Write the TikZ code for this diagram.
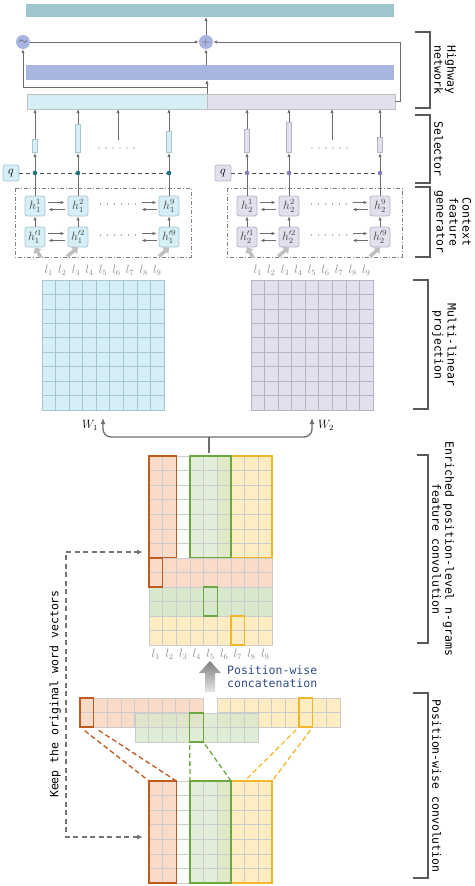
\documentclass[tikz,border=0pt]{standalone}
\usepackage{amsmath}
\usepackage{fontspec}
\setmonofont{DejaVu Sans Mono}
\usetikzlibrary{arrows.meta, positioning, calc}

\definecolor{tealbar}{HTML}{9EC6CC}
\definecolor{bluebar}{HTML}{A9B5E1}
\definecolor{cyanfill}{HTML}{D6EEF6}
\definecolor{cyanline}{HTML}{A6C7D1}
\definecolor{lilafill}{HTML}{E3E0EE}
\definecolor{lilaline}{HTML}{B7B2C8}
\definecolor{orfill}{HTML}{FADBC9}
\definecolor{ordark}{HTML}{C05A1F}
\definecolor{grfill}{HTML}{D8E8CC}
\definecolor{grdark}{HTML}{6BA83E}
\definecolor{yefill}{HTML}{FEECC3}
\definecolor{yedark}{HTML}{F2B829}
\definecolor{arrowgray}{HTML}{6E6E6E}
\definecolor{txtblue}{HTML}{2F4B88}
\definecolor{dotteal}{HTML}{1F717B}
\definecolor{dotlila}{HTML}{8679B6}

\newcommand{\sidefont}{\fontsize{11.5}{13}\selectfont\ttfamily}
% x0, y0, columns, rows, cell width, cell height, options
\newcommand{\cellblock}[7]{%
  \foreach \ci in {1,...,#3}{%
    \foreach \cj in {1,...,#4}{%
      \draw[cellline, #7] ({#1+(\ci-1)*#5},{#2+(\cj-1)*#6}) rectangle ++(#5,#6);
    }%
  }%
}
% arrows and dots of one row of context nodes
\newcommand{\hchain}[1]{%
  \draw[arr, shorten <=3pt, shorten >=3pt] ([yshift=3.5pt]#11.east) -- ([yshift=3.5pt]#12.west);
  \draw[arr, shorten <=3pt, shorten >=3pt] ([yshift=-3.5pt]#12.west) -- ([yshift=-3.5pt]#11.east);
  \draw[dotline] ([xshift=12pt,yshift=2pt]#12.east) -- ([xshift=-20pt,yshift=2pt]#19.west);
  \draw[arr, shorten >=2pt] ([xshift=-17pt,yshift=3.5pt]#19.west) -- ([yshift=3.5pt]#19.west);
  \draw[arr, shorten <=2pt] ([yshift=-3.5pt]#19.west) -- ([xshift=-17pt,yshift=-3.5pt]#19.west);
}

\begin{document}
\begin{tikzpicture}[x=1pt, y=-1pt,
  arr/.style={draw=arrowgray, line width=0.9pt, -{Latex[length=4pt, width=3.4pt]}},
  bigarr/.style={draw=arrowgray, line width=1.3pt, -{Latex[length=6pt, width=5pt]}},
  fat/.style={draw=black!25, line width=3.5pt, -{Triangle[length=5pt, width=9pt]}},
  bar/.style={draw=none, minimum height=#1, inner sep=0pt, outer sep=0pt},
  gate/.style={circle, fill=bluebar, minimum size=14pt, inner sep=0pt},
  hbox/.style={rounded corners=2.5pt, minimum size=20pt, inner sep=0pt, line width=0.8pt, text=black!75, font=\large},
  lefth/.style={hbox, fill=cyanfill, draw=cyanline},
  righth/.style={hbox, fill=lilafill, draw=lilaline},
  vec/.style={minimum width=5pt, minimum height=#1, inner sep=0pt, anchor=south, line width=0.7pt},
  qbox/.style={rounded corners=2pt, minimum size=16pt, inner sep=0pt, line width=0.8pt, font=\large},
  qline/.style={draw=black!70, line width=1pt, dash pattern=on 4pt off 3pt},
  genbox/.style={draw=black!50, line width=0.7pt, dash pattern=on 4pt off 2pt on 1pt off 2pt},
  dotline/.style={draw=black!60, line width=1.3pt, line cap=round, dash pattern=on 0pt off 7pt},
  llbl/.style={text=black!45, inner sep=0pt, font=\large},
  cellline/.style={draw=black!20, line width=0.6pt},
  gridnode/.style={inner sep=0pt, outer sep=0pt, minimum width=122pt, minimum height=130pt},
  hl/.style={draw=#1, line width=1.4pt, inner sep=0pt, outer sep=0pt, anchor=north west},
  brk/.style={draw=black!65, line width=1.3pt},
  side/.style={font=\sidefont, align=center, inner sep=1pt},
  keeparr/.style={draw=black!55, line width=1.2pt, dash pattern=on 5pt off 3.5pt, {Latex[length=6pt, width=5pt]}-{Latex[length=6pt, width=5pt]}},
  odash/.style={draw=ordark, line width=1.3pt, dash pattern=on 5pt off 3pt},
  gdash/.style={draw=grdark, line width=1.3pt, dash pattern=on 5pt off 3pt},
  ydash/.style={draw=yedark, line width=1.3pt, dash pattern=on 5pt off 3pt}]
\useasboundingbox (0,0) rectangle (474,886);

% highway network
\node[bar=13pt, fill=tealbar, minimum width=368pt] (out) at (210,10.5) {};
\node[gate] (sig) at (23,42) {\textcolor{black!70}{\large$\sim$}};
\node[gate] (plus) at (206,42) {\textcolor{black!60}{\large$+$}};
\node[bar=15pt, fill=bluebar, minimum width=368pt] (hw) at (210,72.5) {};
\node[bar=15pt, fill=cyanfill, draw=black!25, minimum width=180pt] (catl) at (117,101.5) {};
\node[bar=15pt, fill=lilafill, draw=black!25, minimum width=188pt] (catr) at (301,101.5) {};
\draw[arr] (plus.north) -- (plus.north |- out.south);
\draw[arr] (plus.south |- hw.north) -- (plus.south);
\draw[arr] (sig) -- (plus);
\draw[arr] (catr.east) -- ++(5,0) |- (plus.east);
\draw[arr] (catl.north east) -- (catl.north east |- hw.south);
\draw[arr] ($(catl.north east)+(0,-7)$) -| (sig.south);

% selector and context feature generator, left
\node[qbox, fill=cyanfill, draw=cyanline] (ql) at (11,173) {$q$};
\draw[genbox] (15,188) rectangle (191,257);
\draw[qline] (ql.east) -- (169,173);
\foreach \x/\h/\i in {35/13/1, 78/28/2, 169/21/9}{
  \node[vec=\h, fill=cyanfill, draw=cyanline] (vl\i) at (\x,153) {};
  \node[lefth] (la\i) at (\x,206) {$h^{\i}_{1}$};
  \node[lefth] (lb\i) at (\x,237) {$h^{\prime\i}_{1}$};
  \draw[arr] (lb\i) -- (la\i);
  \draw[arr] (la\i) -- (vl\i.south);
  \draw[arr] (vl\i) -- (vl\i |- catl.south);
  \fill[dotteal] (\x,173) circle (2.3pt);
}
\coordinate (ldots) at (118,140);
\draw[arr] (ldots) -- (ldots |- catl.south);
\draw[dotline] (99,148) -- (137,148);
\hchain{la}
\hchain{lb}
\draw[fat] ($(lb1.south)+(6,10)$) -- (lb1.south);
\draw[fat] ($(lb2.south)+(-11,9)$) -- (lb2.south);
\draw[fat] ($(lb9.south)+(-10,9)$) -- (lb9.south);

% selector and context feature generator, right
\node[qbox, fill=lilafill, draw=lilaline] (qr) at (223,173) {$q$};
\draw[genbox] (227,188) rectangle (402,257);
\draw[qline] (qr.east) -- (380,173);
\foreach \x/\h/\i in {247/23/1, 289/30/2, 380/15/9}{
  \node[vec=\h, fill=lilafill, draw=lilaline] (vr\i) at (\x,153) {};
  \node[righth] (ra\i) at (\x,206) {$h^{\i}_{2}$};
  \node[righth] (rb\i) at (\x,237) {$h^{\prime\i}_{2}$};
  \draw[arr] (rb\i) -- (ra\i);
  \draw[arr] (ra\i) -- (vr\i.south);
  \draw[arr] (vr\i) -- (vr\i |- catr.south);
  \fill[dotlila] (\x,173) circle (2.3pt);
}
\coordinate (rdots) at (332,140);
\draw[arr] (rdots) -- (rdots |- catr.south);
\draw[dotline] (312,148) -- (350,148);
\hchain{ra}
\hchain{rb}
\draw[fat] ($(rb1.south)+(6,10)$) -- (rb1.south);
\draw[fat] ($(rb2.south)+(-11,9)$) -- (rb2.south);
\draw[fat] ($(rb9.south)+(-10,9)$) -- (rb9.south);

% multi-linear projection
\cellblock{42}{280}{9}{9}{13.556}{14.444}{fill=cyanfill, draw=cyanline}
\cellblock{251}{280}{9}{9}{13.556}{14.444}{fill=lilafill, draw=lilaline}
\node[gridnode] (gl) at (103,345) {};
\node[gridnode] (gr) at (312,345) {};
\foreach \i in {1,...,9}{
  \node[llbl] (pl\i) at ({42+(\i-0.5)*13.556},270) {$l_{\i}$};
  \node[llbl] (pr\i) at ({251+(\i-0.5)*13.556},270) {$l_{\i}$};
}
\coordinate (entop) at (209,453);
\coordinate (split) at (209,437);
\draw[draw=arrowgray, line width=1.3pt] (entop) -- (split);
\draw[bigarr, rounded corners=8pt] (split) -| ([yshift=-8pt]gl.south);
\draw[bigarr, rounded corners=8pt] (split) -| ([yshift=-8pt]gr.south);
\node[font=\large] (w1) at (90,425) {$W_1$};
\node[font=\large] (w2) at (326,425) {$W_2$};

% enriched n-gram features
\cellblock{149}{456}{2}{7}{13.67}{14.57}{fill=orfill}
\cellblock{176.34}{456}{1}{7}{13.67}{14.57}{fill=white}
\cellblock{217.35}{456}{4}{7}{13.67}{14.57}{fill=yefill}
\node[hl=yedark, minimum width=54.68pt, minimum height=102pt] (ey) at (217.35,456) {};
\cellblock{190.01}{456}{3}{7}{13.67}{14.57}{fill=grfill, fill opacity=0.75}
\node[hl=grdark, minimum width=41pt, minimum height=102pt] (eg) at (190.01,456) {};
\node[hl=ordark, minimum width=27.34pt, minimum height=102pt] (eo) at (149,456) {};
\cellblock{149}{558}{9}{2}{13.67}{14.5}{fill=orfill}
\cellblock{149}{587}{9}{2}{13.67}{14.5}{fill=grfill}
\cellblock{149}{616}{9}{2}{13.67}{14.5}{fill=yefill}
\node[hl=ordark, minimum width=13.67pt, minimum height=29pt] (eo2) at (149,558) {};
\node[hl=grdark, minimum width=13.67pt, minimum height=29pt] (eg2) at (203.68,587) {};
\node[hl=yedark, minimum width=13.67pt, minimum height=29pt] (ey2) at (231.02,616) {};
\foreach \i in {1,...,9}{
  \node[llbl] (el\i) at ({149+(\i-0.5)*13.67},654) {$l_{\i}$};
}

% position-wise concatenation
\shade[top color=black!50, bottom color=black!10] (205,692) -- (205,673) -- (199,673) -- (210,661) -- (221,673) -- (215,673) -- (215,692) -- cycle;
\node[side, text=txtblue, align=left, anchor=west] (pwc) at (226,677) {Position-wise\\concatenation};

% position-wise convolution outputs
\cellblock{80}{698}{9}{2}{13.67}{14.5}{fill=orfill}
\cellblock{217}{698}{9}{2}{13.67}{14.5}{fill=yefill}
\cellblock{135}{713}{9}{2}{13.67}{14.5}{fill=grfill, fill opacity=0.8}
\node[hl=ordark, minimum width=13.67pt, minimum height=29pt] (mo) at (80,698) {};
\node[hl=yedark, minimum width=13.67pt, minimum height=29pt] (my) at (299.02,698) {};
\node[hl=grdark, minimum width=13.67pt, minimum height=29pt] (mg) at (189.68,713) {};

% original word vectors
\cellblock{149}{781}{2}{7}{13.67}{14.57}{fill=orfill}
\cellblock{176.34}{781}{1}{7}{13.67}{14.57}{fill=white}
\cellblock{217.35}{781}{4}{7}{13.67}{14.57}{fill=yefill}
\node[hl=yedark, minimum width=54.68pt, minimum height=102pt] (by) at (217.35,781) {};
\cellblock{190.01}{781}{3}{7}{13.67}{14.57}{fill=grfill, fill opacity=0.75}
\node[hl=grdark, minimum width=41pt, minimum height=102pt] (bg) at (190.01,781) {};
\node[hl=ordark, minimum width=27.34pt, minimum height=102pt] (bo) at (149,781) {};
\coordinate (byk) at (244.7,781);

\draw[odash, shorten <=6pt] (mo.south west) -- (bo.north west);
\draw[odash, shorten <=6pt] (mo.south east) -- (bo.north east);
\draw[gdash, shorten <=3pt] (mg.south west) -- (bg.north west);
\draw[gdash, shorten <=3pt] (mg.south east) -- (bg.north east);
\draw[ydash, shorten <=4pt] (my.south west) -- (byk);
\draw[ydash, shorten <=4pt] (my.south east) -- (by.north east);

% keep the original word vectors
\coordinate (ka) at (143,552);
\coordinate (kb) at (143,837);
\coordinate (kc) at (66,552);
\draw[keeparr] (kb) -| (kc) -- (ka);
\node[side, rotate=90, anchor=south] (keep) at (62,694) {Keep the original word vectors};

% side brackets
\draw[brk] (415,32) -- (430,32) -- (430,108) -- (415,108);
\node[side, rotate=-90, anchor=south] (thw) at (433,70) {Highway\\network};
\draw[brk] (415,115) -- (430,115) -- (430,183) -- (415,183);
\node[side, rotate=-90, anchor=south] (tsel) at (433,149) {Selector};
\draw[brk] (415,187) -- (430,187) -- (430,257) -- (415,257);
\node[side, rotate=-90, anchor=south] (tcfg) at (433,222) {Context\\feature\\generator};
\draw[brk] (413,280) -- (428,280) -- (428,409) -- (413,409);
\node[side, rotate=-90, anchor=south] (tmlp) at (431,345) {Multi-linear\\projection};
\draw[brk] (417,455) -- (428,455) -- (428,643) -- (417,643);
\node[side, rotate=-90, anchor=south] (tenr) at (431,549) {Enriched position-level n-grams\\feature convolution};
\draw[brk] (413,693) -- (428,693) -- (428,878) -- (413,878);
\node[side, rotate=-90, anchor=south] (tpwc) at (431,786) {Position-wise convolution};
\end{tikzpicture}
\end{document}
